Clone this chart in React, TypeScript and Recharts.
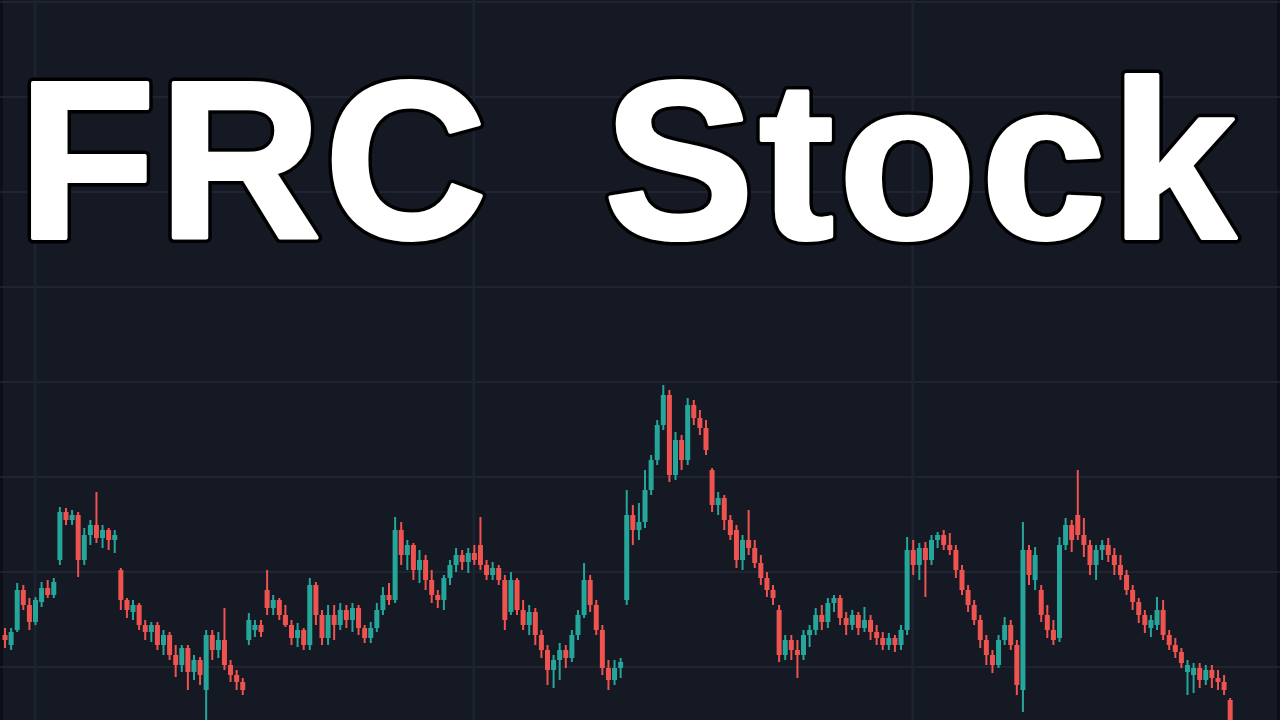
import {
  Bar,
  CartesianGrid,
  ComposedChart,
  Customized,
  XAxis,
  YAxis,
} from "recharts";

// daily candles, oldest first (day index = position - 5)
const opens = [
  16.5, 15.5, 17.0, 21.0, 19.5, 17.8, 19.8, 21.2, 20.5, 24.0,
  28.8, 28.0, 28.5, 24.0, 26.5, 27.5, 26.2, 27.0, 26.0, 23.0,
  20.0, 18.8, 19.5, 17.5, 16.8, 17.5, 15.5, 16.5, 14.5, 13.5,
  15.2, 12.8, 14.0, 11.0, 16.5, 15.0, 16.0, 13.5, 12.5, 11.8,
  16.0, 17.0, 17.5, 21.0, 19.2, 20.0, 18.5, 17.5, 16.2, 17.0,
  15.5, 21.5, 18.5, 16.2, 18.5, 17.5, 19.0, 18.0, 19.2, 17.2,
  16.2, 17.2, 19.0, 20.5, 20.0, 27.0, 24.5, 25.5, 23.0, 24.0,
  22.0, 20.5, 20.0, 22.2, 23.5, 24.5, 23.8, 24.7, 25.5, 23.5,
  22.5, 23.2, 22.0, 18.8, 22.0, 19.0, 17.5, 18.8, 16.5, 15.0,
  13.0, 14.0, 15.0, 14.2, 16.5, 18.5, 22.0, 19.5, 17.0, 13.2,
  12.0, 13.2, 20.0, 28.5, 27.0, 27.8, 31.0, 34.0, 37.5, 40.5,
  32.5, 36.0, 34.0, 39.5, 38.2, 37.2, 33.0, 29.5, 30.2, 28.0,
  27.0, 24.0, 26.0, 25.2, 23.7, 22.2, 21.0, 19.0, 14.5, 16.0,
  15.0, 14.5, 16.5, 17.0, 18.5, 17.8, 19.7, 20.2, 18.2, 17.5,
  18.5, 17.2, 18.0, 16.8, 16.2, 15.5, 16.2, 15.5, 17.0, 25.0,
  23.5, 25.2, 24.0, 26.0, 26.5, 25.5, 25.0, 23.0, 21.0, 19.5,
  18.0, 16.0, 14.5, 13.5, 16.0, 17.5, 15.5, 11.0, 25.0, 22.0,
  21.0, 18.5, 17.0, 16.2, 25.5, 27.5, 28.5, 26.5, 25.5, 23.5,
  25.0, 25.5, 24.5, 23.5, 22.5, 21.0, 19.8, 18.5, 17.2, 17.5,
  19.0, 16.5, 15.5, 14.8, 12.8, 12.5, 13.2, 12.0, 13.0, 12.2,
  11.8, 10.0,
];

const highs = [
  17.2, 17.2, 21.7, 21.5, 20.2, 20.3, 21.8, 22.0, 22.2, 29.3,
  29.2, 29.0, 28.8, 27.2, 28.0, 30.8, 27.5, 27.2, 27.0, 23.2,
  20.2, 20.0, 19.7, 18.0, 17.8, 17.8, 17.0, 16.8, 15.5, 15.5,
  15.5, 14.5, 14.3, 17.0, 17.0, 16.8, 19.2, 14.0, 13.0, 12.2,
  18.7, 18.0, 18.0, 23.0, 20.5, 20.2, 19.5, 18.0, 17.7, 17.2,
  22.2, 21.8, 19.0, 19.5, 19.5, 19.7, 19.5, 19.7, 19.5, 17.5,
  17.8, 19.7, 21.3, 21.7, 28.3, 27.8, 26.0, 25.7, 25.0, 24.5,
  23.0, 21.0, 22.5, 24.0, 25.2, 25.0, 25.2, 25.5, 28.3, 24.0,
  23.8, 23.5, 22.5, 22.8, 22.2, 20.0, 19.5, 19.2, 17.0, 15.5,
  14.5, 15.7, 15.5, 17.0, 19.0, 23.7, 22.5, 20.0, 17.5, 14.0,
  14.0, 14.2, 31.0, 29.5, 29.7, 33.0, 34.5, 38.0, 41.5, 41.0,
  36.8, 36.5, 40.2, 40.0, 39.0, 38.0, 33.2, 30.8, 30.5, 28.5,
  27.5, 26.5, 29.0, 26.0, 24.5, 22.8, 21.5, 19.5, 16.5, 16.5,
  16.0, 17.0, 17.5, 19.2, 19.5, 20.2, 20.5, 20.5, 18.8, 19.0,
  18.8, 19.3, 18.5, 17.5, 16.8, 16.7, 16.5, 17.5, 26.3, 26.0,
  25.7, 25.8, 26.5, 26.8, 27.0, 26.7, 25.5, 23.5, 21.5, 20.0,
  18.5, 16.5, 15.0, 16.5, 18.3, 18.0, 16.0, 27.8, 25.5, 25.3,
  21.5, 19.5, 18.0, 26.3, 28.2, 28.0, 33.0, 28.2, 26.0, 25.5,
  26.0, 26.2, 25.2, 24.5, 23.0, 21.5, 20.2, 19.0, 18.5, 20.3,
  20.0, 17.0, 16.2, 15.2, 14.0, 13.7, 13.7, 13.5, 13.5, 13.0,
  12.5, 10.2,
];

const lows = [
  15.2, 15.0, 16.8, 19.0, 17.0, 17.5, 19.3, 20.2, 20.2, 23.5,
  27.5, 27.5, 22.3, 23.5, 25.5, 25.7, 25.2, 25.0, 24.7, 19.0,
  18.2, 18.0, 17.0, 16.0, 15.8, 15.0, 14.5, 14.0, 12.3, 12.8,
  11.0, 12.0, 11.5, 8.0, 14.0, 14.2, 13.0, 11.8, 11.0, 10.5,
  15.5, 16.3, 16.3, 18.5, 18.5, 18.0, 17.3, 15.5, 15.3, 15.0,
  15.0, 17.5, 15.5, 15.5, 16.0, 17.0, 17.2, 16.8, 16.5, 15.7,
  15.7, 16.8, 18.5, 19.5, 19.7, 23.5, 23.0, 22.0, 21.7, 21.0,
  19.7, 19.2, 19.0, 21.5, 22.8, 23.0, 22.7, 23.5, 23.0, 22.0,
  22.0, 21.5, 17.0, 18.5, 18.5, 17.0, 16.5, 15.5, 14.2, 11.5,
  11.2, 12.0, 13.2, 13.8, 16.0, 18.2, 18.8, 16.5, 12.5, 11.0,
  11.5, 12.2, 19.5, 25.5, 26.0, 27.2, 30.5, 33.5, 37.0, 31.8,
  32.0, 33.0, 33.5, 37.5, 36.5, 34.5, 28.8, 28.5, 27.0, 26.0,
  23.2, 23.0, 24.5, 23.2, 21.5, 20.3, 19.5, 13.8, 14.0, 14.0,
  12.2, 14.0, 15.3, 16.5, 17.0, 17.2, 18.8, 17.5, 16.5, 17.0,
  16.5, 16.8, 16.0, 15.5, 15.0, 15.0, 14.8, 15.0, 16.5, 22.5,
  22.0, 20.3, 23.5, 25.2, 25.0, 24.5, 22.2, 20.5, 18.8, 17.5,
  15.2, 13.5, 12.7, 13.2, 15.5, 15.0, 10.5, 8.8, 21.5, 21.0,
  17.8, 16.2, 15.5, 15.8, 25.0, 24.8, 26.0, 24.3, 22.5, 22.0,
  24.0, 23.8, 22.5, 22.0, 20.5, 19.0, 17.7, 16.7, 16.3, 17.0,
  16.0, 15.0, 14.2, 13.2, 10.5, 10.7, 11.2, 11.5, 11.2, 11.0,
  10.5, 5.5,
];

const closes = [
  16.0, 16.8, 21.0, 19.5, 17.8, 20.0, 21.2, 20.5, 21.8, 28.8,
  28.0, 28.5, 24.0, 26.5, 27.5, 26.2, 27.0, 26.0, 26.5, 20.0,
  19.0, 19.5, 17.5, 16.8, 17.5, 15.5, 16.5, 14.5, 13.5, 15.2,
  12.8, 14.0, 12.5, 16.5, 15.0, 16.0, 13.5, 12.5, 11.8, 11.0,
  18.0, 17.5, 16.8, 19.2, 20.0, 18.5, 17.5, 16.2, 17.0, 15.5,
  21.5, 18.5, 16.2, 18.5, 17.5, 19.0, 18.0, 19.2, 17.2, 16.2,
  17.2, 19.0, 20.5, 20.0, 27.0, 24.5, 25.5, 23.0, 24.0, 22.0,
  20.5, 20.0, 22.2, 23.5, 24.5, 23.8, 24.7, 24.0, 23.5, 22.5,
  23.2, 22.0, 18.0, 22.0, 19.0, 17.5, 18.8, 16.5, 15.0, 13.0,
  14.0, 15.0, 14.2, 16.5, 18.5, 22.0, 19.5, 17.0, 13.2, 12.0,
  13.2, 13.8, 28.5, 27.0, 27.8, 31.0, 34.0, 37.5, 40.5, 32.5,
  36.0, 34.0, 39.5, 38.2, 37.2, 35.0, 29.5, 30.2, 28.0, 26.5,
  24.0, 26.0, 25.2, 23.7, 22.2, 21.0, 20.2, 14.5, 16.0, 15.0,
  14.5, 16.5, 17.0, 18.5, 17.8, 19.7, 20.2, 18.2, 17.5, 18.5,
  17.2, 18.0, 16.8, 16.2, 15.5, 16.2, 15.5, 17.0, 25.0, 23.5,
  25.2, 24.0, 26.0, 26.5, 25.5, 25.0, 23.0, 21.0, 19.5, 18.0,
  16.0, 14.5, 13.5, 16.0, 17.5, 15.5, 11.5, 25.0, 22.5, 24.5,
  18.5, 17.0, 16.0, 25.5, 27.5, 26.0, 26.5, 25.5, 23.5, 25.0,
  25.5, 24.5, 23.5, 22.5, 21.0, 19.8, 18.5, 17.5, 18.0, 19.0,
  16.5, 15.5, 14.8, 13.7, 13.5, 13.2, 12.0, 13.0, 12.2, 11.8,
  11.0, 6.0,
];

const priceGrid = [13.3, 22.8, 32.3, 41.8, 51.3, 60.8, 70.3, 79.8];
const dayGrid = [0, 72, 144];

const UP = "#26a69a";
const DOWN = "#ef5350";
const BG = "#151924";

const candles = opens.map((open, i) => ({
  day: i - 5,
  open,
  high: highs[i],
  low: lows[i],
  close: closes[i],
  range: [lows[i], highs[i]],
}));

function Candle(props: any) {
  const { x, y, width, height, payload } = props;
  if (x == null || !payload) return null;
  const { open, close, high, low } = payload;
  const top = Math.min(y, y + height);
  const h = Math.abs(height);
  const span = high - low || 1;
  const color = close >= open ? UP : DOWN;
  const bodyTop = top + ((high - Math.max(open, close)) / span) * h;
  const bodyH = Math.max(1.5, (Math.abs(open - close) / span) * h);
  const cx = x + width / 2;
  return (
    <g>
      <line x1={cx} x2={cx} y1={top} y2={top + h} stroke={color} strokeWidth={2} />
      <rect x={x} y={bodyTop} width={width} height={bodyH} fill={color} />
    </g>
  );
}

function TitleLayer() {
  const font = {
    fontFamily: '"Liberation Sans", Arial, sans-serif',
    fontWeight: 700,
    fontSize: 225,
  };
  const words = [
    { text: "FRC", x: 18, len: 469 },
    { text: "Stock", x: 604, len: 632 },
  ];
  return (
    <g>
      {words.map((w) => (
        <g key={w.text}>
          <text
            x={w.x}
            y={238}
            textLength={w.len}
            lengthAdjust="spacing"
            {...font}
            fill="#000"
            stroke="#000"
            strokeWidth={11}
            strokeLinejoin="round"
          >
            {w.text}
          </text>
          <text
            x={w.x}
            y={238}
            textLength={w.len}
            lengthAdjust="spacing"
            {...font}
            fill="#fff"
            stroke="#fff"
            strokeWidth={4}
            strokeLinejoin="round"
          >
            {w.text}
          </text>
        </g>
      ))}
    </g>
  );
}

export default function App() {
  return (
    <div
      style={{
        position: "absolute",
        top: 0,
        left: 0,
        width: 1280,
        height: 720,
        background: BG,
        boxShadow: "inset 3px 0 0 #0c0f15, inset -3px 0 0 #0c0f15",
        overflow: "hidden",
      }}
    >
      <style>{`.recharts-bar-rectangles { filter: blur(0.6px); }`}</style>
      <ComposedChart
        width={1280}
        height={720}
        data={candles}
        margin={{ top: 0, right: 0, bottom: 0, left: 0 }}
      >
        <CartesianGrid
          vertical={false}
          stroke="#232834"
          strokeWidth={1.5}
          horizontalValues={priceGrid}
        />
        <CartesianGrid
          horizontal={false}
          stroke="#1c2230"
          strokeWidth={3}
          verticalValues={dayGrid}
        />
        <XAxis
          type="number"
          dataKey="day"
          domain={[-5.75, 204.25]}
          ticks={dayGrid}
          allowDataOverflow
          hide
        />
        <YAxis
          type="number"
          domain={[8, 80]}
          ticks={priceGrid}
          allowDataOverflow
          hide
        />
        <Bar
          dataKey="range"
          barSize={5}
          shape={<Candle />}
          isAnimationActive={false}
        />
        <Customized component={TitleLayer} />
      </ComposedChart>
    </div>
  );
}
